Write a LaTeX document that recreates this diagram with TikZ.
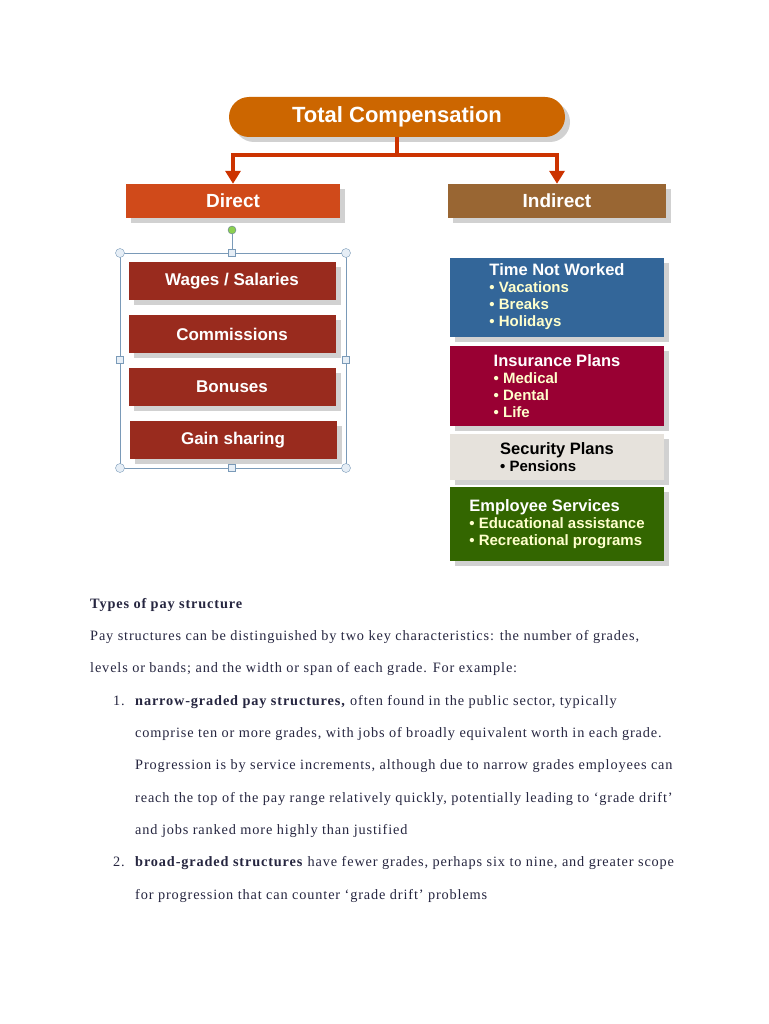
\documentclass[tikz,border=0pt]{standalone}
\usepackage{fontspec}
\setmainfont{Liberation Serif}[LetterSpace=6]
\setsansfont{Liberation Sans}
\usetikzlibrary{shadows,arrows.meta,shapes.misc}

\definecolor{tcorange}{RGB}{204,102,0}
\definecolor{linkred}{RGB}{204,51,0}
\definecolor{directred}{RGB}{208,74,26}
\definecolor{indirectbrown}{RGB}{153,102,51}
\definecolor{itemred}{RGB}{153,43,30}
\definecolor{timeblue}{RGB}{51,102,153}
\definecolor{insurcrimson}{RGB}{153,0,51}
\definecolor{securgrey}{RGB}{230,226,220}
\definecolor{servgreen}{RGB}{51,102,0}
\definecolor{bulletyellow}{RGB}{255,255,204}
\definecolor{handleblue}{RGB}{122,154,184}
\definecolor{handlefill}{RGB}{230,238,246}
\definecolor{handlegreen}{RGB}{140,208,80}
\definecolor{bodytext}{RGB}{38,38,64}

\newcommand{\boxtitle}[1]{{\fontsize{16.5}{19}\selectfont #1}}

\begin{document}
\begin{tikzpicture}[x=1pt, y=-1pt,
		boxshadow/.style={drop shadow={shadow xshift=5pt, shadow yshift=-5pt, fill=black!18, opacity=1}},
		headbox/.style={minimum height=34pt, inner sep=0pt, text=white,
			font=\sffamily\bfseries\fontsize{19}{21}\selectfont, boxshadow},
		itembox/.style={fill=itemred, minimum width=207pt, minimum height=38pt, inner sep=0pt, text=white,
			font=\sffamily\bfseries\fontsize{17}{19}\selectfont, boxshadow},
		infobox/.style={minimum width=214pt, inner sep=0pt, align=left,
			font=\sffamily\bfseries\fontsize{15}{17}\selectfont, boxshadow},
		handle/.style={circle, draw=handleblue, fill=handlefill, minimum size=9pt, inner sep=0pt},
		sqhandle/.style={rectangle, draw=handleblue, fill=handlefill, minimum size=7pt, inner sep=0pt},
		link/.style={linkred, line width=4pt, -{Triangle[length=13pt, width=15pt]}},
		bodyline/.style={anchor=base west, inner sep=0pt, text=bodytext, font=\fontsize{14.3}{16}\selectfont}]
	
	% page
	\fill[white] (0,0) rectangle (768,1024);
	
	% top of the chart
	\node[rounded rectangle, fill=tcorange, minimum width=336pt, minimum height=40pt, inner sep=0pt,
		text=white, font=\sffamily\bfseries\fontsize{22}{24}\selectfont, boxshadow]
		(total) at (397,117) {Total Compensation};
	\node[headbox, fill=directred, minimum width=214pt] (direct) at (233,201) {Direct};
	\node[headbox, fill=indirectbrown, minimum width=218pt] (indirect) at (557,201) {Indirect};
	
	% arrows
	\draw[link] (total.south) -- ++(0,18) -| (direct.north);
	\draw[link] (total.south) -- ++(0,18) -| (indirect.north);
	
	% direct items with the selection frame
	\node[itembox] (wages) at (232,281) {Wages / Salaries};
	\node[itembox] (commissions) at (232,334) {Commissions};
	\node[itembox] (bonuses) at (232,387) {Bonuses};
	\node[itembox] (gain) at (233,440) {Gain sharing};
	
	\draw[handleblue, thin] (120,253) rectangle (346,468);
	\coordinate (frametop) at (232,253);
	\node[handle, fill=handlegreen, draw=handleblue!80!black, minimum size=8pt] (rotate) at (232,230) {};
	\draw[handleblue, thin] (rotate) -- (frametop);
	\node[handle] (h1) at (120,253) {};
	\node[handle] (h2) at (346,253) {};
	\node[handle] (h3) at (120,468) {};
	\node[handle] (h4) at (346,468) {};
	\node[sqhandle] (s1) at (232,253) {};
	\node[sqhandle] (s2) at (232,468) {};
	\node[sqhandle] (s3) at (120,360) {};
	\node[sqhandle] (s4) at (346,360) {};
	
	% indirect items
	\node[infobox, fill=timeblue, minimum height=79pt, text=white] (time) at (557,297)
		{\boxtitle{Time Not Worked}\\\color{bulletyellow}• Vacations\\\color{bulletyellow}• Breaks\\\color{bulletyellow}• Holidays};
	\node[infobox, fill=insurcrimson, minimum height=80pt, text=white] (insurance) at (557,386)
		{\boxtitle{Insurance Plans}\\\color{bulletyellow}• Medical\\\color{bulletyellow}• Dental\\\color{bulletyellow}• Life};
	\node[infobox, fill=securgrey, minimum height=46pt, text=black] (security) at (557,457)
		{\boxtitle{Security Plans}\\• Pensions};
	\node[infobox, fill=servgreen, minimum height=74pt, text=white] (services) at (557,524)
		{\boxtitle{Employee Services}\\\color{bulletyellow}• Educational assistance\\\color{bulletyellow}• Recreational programs};
	
	% text below the chart
	\node[bodyline, font=\fontsize{14.3}{16}\selectfont\bfseries] (types) at (90,608) {Types of pay structure};
	\node[bodyline] (par1) at (90,640) {Pay structures can be distinguished by two key characteristics: the number of grades,};
	\node[bodyline] (par2) at (90,672) {levels or bands; and the width or span of each grade. For example:};
	\node[bodyline] (num1) at (113,705) {1.};
	\node[bodyline] (item1a) at (135,705) {\textbf{narrow-graded pay structures,} often found in the public sector, typically};
	\node[bodyline] (item1b) at (135,737) {comprise ten or more grades, with jobs of broadly equivalent worth in each grade.};
	\node[bodyline] (item1c) at (135,769) {Progression is by service increments, although due to narrow grades employees can};
	\node[bodyline] (item1d) at (135,802) {reach the top of the pay range relatively quickly, potentially leading to ‘grade drift’};
	\node[bodyline] (item1e) at (135,834) {and jobs ranked more highly than justified};
	\node[bodyline] (num2) at (113,866) {2.};
	\node[bodyline] (item2a) at (135,866) {\textbf{broad-graded structures} have fewer grades, perhaps six to nine, and greater scope};
	\node[bodyline] (item2b) at (135,899) {for progression that can counter ‘grade drift’ problems};
\end{tikzpicture}
\end{document}
